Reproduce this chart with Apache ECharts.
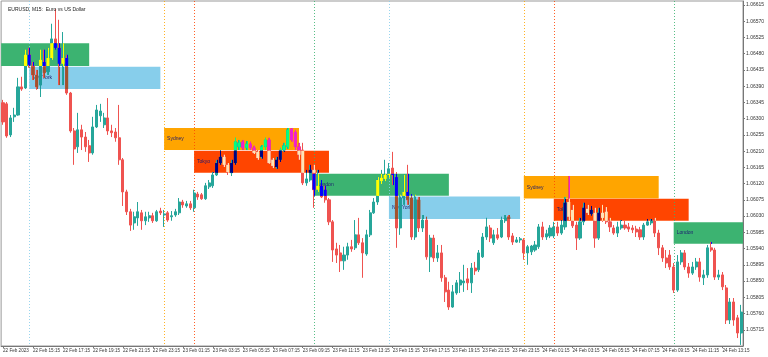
<!DOCTYPE html>
<html><head><meta charset="utf-8">
<script src="https://cdn.jsdelivr.net/npm/echarts@6/dist/echarts.min.js"></script>
<style>html,body{margin:0;padding:0;background:#fff}#c{width:768px;height:357px}</style>
</head><body><div id="c"></div>
<script>
const chartTitle = 'EURUSD, M15:  Euro vs US Dollar';
const xTickLabels = ['22 Feb 2023','22 Feb 15:15','22 Feb 17:15','22 Feb 19:15','22 Feb 21:15','22 Feb 23:15',
  '23 Feb 01:15','23 Feb 03:15','23 Feb 05:15','23 Feb 07:15','23 Feb 09:15','23 Feb 11:15','23 Feb 13:15',
  '23 Feb 15:15','23 Feb 17:15','23 Feb 19:15','23 Feb 21:15','23 Feb 23:15','24 Feb 01:15','24 Feb 03:15',
  '24 Feb 05:15','24 Feb 07:15','24 Feb 09:15','24 Feb 11:15','24 Feb 13:15'];

const opens = [
1.06344,1.06341,1.06255,1.06305,1.06310,1.06388,1.06385,1.06477,1.06446,1.06421,
1.06393,1.06457,1.06430,1.06468,1.06521,1.06496,1.06452,1.06468,1.06371,1.06266,
1.06222,1.06269,1.06249,1.06225,1.06205,1.06277,1.06308,1.06283,1.06302,1.06266,
1.06263,1.06247,1.06186,1.06097,1.06042,1.06011,1.06025,1.06039,1.06017,1.06025,
1.06031,1.06017,1.06044,1.06033,1.06039,1.06028,1.06033,1.06039,1.06069,1.06058,
1.06064,1.06053,1.06091,1.06089,1.06078,1.06111,1.06114,1.06144,1.06177,1.06194,
1.06172,1.06150,1.06177,1.06222,1.06236,1.06219,1.06230,1.06219,1.06208,1.06194,
1.06222,1.06241,1.06186,1.06166,1.06186,1.06213,1.06222,1.06272,1.06263,1.06222,
1.06213,1.06122,1.06130,1.06158,1.06103,1.06114,1.06103,1.06075,1.06014,1.05939,
1.05928,1.05906,1.05922,1.05945,1.05942,1.05978,1.05956,1.05925,1.05978,1.06039,
1.06069,1.06127,1.06133,1.06144,1.06163,1.06138,1.05997,1.06080,1.06097,1.06080,
1.05972,1.06075,1.05997,1.06019,1.05917,1.05969,1.05914,1.05928,1.05859,1.05825,
1.05778,1.05817,1.05839,1.05845,1.05856,1.05845,1.05886,1.05881,1.05917,1.05972,
1.05997,1.05956,1.05978,1.05972,1.06017,1.06028,1.05975,1.05958,1.05964,1.05964,
1.05928,1.05931,1.05936,1.05945,1.06000,1.05972,1.05975,1.05975,1.06000,1.05983,
1.06000,1.06069,1.06047,1.06005,1.05969,1.06014,1.06050,1.06036,1.06039,1.05969,
1.06039,1.06042,1.06014,1.05997,1.05983,1.05997,1.06005,1.06000,1.05997,1.05994,
1.05992,1.05972,1.06005,1.06011,1.06017,1.05983,1.05942,1.05914,1.05922,1.05889,
1.05825,1.05903,1.05928,1.05889,1.05872,1.05889,1.05903,1.05859,1.05867,1.05942,
1.05936,1.05861,1.05867,1.05831,1.05742,1.05792,1.05748,1.05706];

const closes = [
1.06291,1.06252,1.06302,1.06310,1.06388,1.06382,1.06477,1.06449,1.06421,1.06388,
1.06463,1.06427,1.06468,1.06521,1.06496,1.06452,1.06468,1.06371,1.06266,1.06216,
1.06269,1.06249,1.06222,1.06205,1.06277,1.06324,1.06321,1.06302,1.06266,1.06261,
1.06247,1.06186,1.06097,1.06042,1.06005,1.06028,1.06042,1.06017,1.06028,1.06031,
1.06017,1.06042,1.06039,1.06036,1.06019,1.06031,1.06042,1.06069,1.06061,1.06064,
1.06053,1.06094,1.06083,1.06078,1.06114,1.06122,1.06144,1.06177,1.06194,1.06172,
1.06152,1.06177,1.06236,1.06233,1.06219,1.06230,1.06219,1.06205,1.06191,1.06222,
1.06241,1.06177,1.06169,1.06186,1.06213,1.06225,1.06269,1.06241,1.06222,1.06200,
1.06122,1.06133,1.06158,1.06103,1.06114,1.06083,1.06075,1.06014,1.05936,1.05922,
1.05906,1.05922,1.05945,1.05939,1.05978,1.05956,1.05928,1.05978,1.06039,1.06069,
1.06130,1.06136,1.06144,1.06161,1.06144,1.05997,1.06080,1.06097,1.06075,1.05972,
1.06075,1.05997,1.06019,1.05917,1.05969,1.05914,1.05928,1.05859,1.05820,1.05778,
1.05820,1.05845,1.05853,1.05850,1.05845,1.05886,1.05878,1.05928,1.05972,1.06000,
1.05969,1.05978,1.05969,1.06019,1.06025,1.05972,1.05958,1.05964,1.05967,1.05928,
1.05945,1.05947,1.05950,1.06000,1.05972,1.05981,1.05997,1.06000,1.05983,1.06005,
1.06067,1.06028,1.06003,1.05969,1.06014,1.06053,1.06039,1.06047,1.05969,1.06039,
1.06025,1.06014,1.06000,1.05983,1.06000,1.06005,1.05997,1.05994,1.05992,1.05986,
1.05972,1.06005,1.06014,1.06017,1.05983,1.05942,1.05914,1.05900,1.05889,1.05825,
1.05903,1.05928,1.05889,1.05872,1.05889,1.05903,1.05861,1.05867,1.05942,1.05936,
1.05861,1.05867,1.05834,1.05742,1.05792,1.05742,1.05706,1.05764];

const lows = [
1.06283,1.06247,1.06249,1.06291,1.06308,1.06377,1.06382,1.06441,1.06407,1.06380,
1.06360,1.06413,1.06421,1.06463,1.06491,1.06393,1.06393,1.06366,1.06261,1.06172,
1.06205,1.06213,1.06208,1.06180,1.06200,1.06274,1.06291,1.06274,1.06255,1.06249,
1.06236,1.06172,1.06058,1.06033,1.05989,1.05992,1.06003,1.05992,1.06005,1.06014,
1.06011,1.06014,1.06033,1.06000,1.06014,1.06017,1.06028,1.06033,1.06053,1.06053,
1.06047,1.06042,1.06075,1.06075,1.06075,1.06105,1.06108,1.06141,1.06172,1.06166,
1.06144,1.06141,1.06172,1.06213,1.06213,1.06213,1.06213,1.06202,1.06186,1.06189,
1.06213,1.06175,1.06163,1.06161,1.06180,1.06208,1.06216,1.06236,1.06213,1.06186,
1.06116,1.06114,1.06125,1.06053,1.06097,1.06080,1.06067,1.06005,1.05903,1.05900,
1.05875,1.05881,1.05909,1.05931,1.05936,1.05950,1.05859,1.05920,1.05972,1.06036,
1.06061,1.06119,1.06127,1.06136,1.06116,1.05942,1.05978,1.06061,1.06061,1.05964,
1.05964,1.05986,1.05986,1.05909,1.05875,1.05903,1.05903,1.05848,1.05792,1.05770,
1.05776,1.05812,1.05817,1.05820,1.05825,1.05817,1.05867,1.05875,1.05914,1.05964,
1.05958,1.05950,1.05964,1.05969,1.06011,1.05964,1.05950,1.05956,1.05956,1.05909,
1.05895,1.05922,1.05931,1.05939,1.05964,1.05964,1.05969,1.05969,1.05975,1.05978,
1.05992,1.06019,1.05997,1.05936,1.05964,1.06005,1.06033,1.06031,1.05942,1.05964,
1.06014,1.06008,1.05986,1.05978,1.05972,1.05992,1.05992,1.05986,1.05983,1.05972,
1.05964,1.05964,1.06003,1.06005,1.05972,1.05922,1.05903,1.05886,1.05881,1.05817,
1.05820,1.05895,1.05881,1.05859,1.05867,1.05881,1.05848,1.05839,1.05859,1.05931,
1.05853,1.05853,1.05825,1.05731,1.05731,1.05726,1.05692,1.05673];

const highs = [
1.06352,1.06346,1.06310,1.06330,1.06413,1.06416,1.06491,1.06496,1.06457,1.06435,
1.06491,1.06491,1.06496,1.06563,1.06604,1.06574,1.06540,1.06477,1.06374,1.06274,
1.06316,1.06283,1.06263,1.06241,1.06305,1.06338,1.06341,1.06316,1.06357,1.06283,
1.06274,1.06338,1.06191,1.06103,1.06050,1.06042,1.06069,1.06047,1.06042,1.06042,
1.06039,1.06047,1.06053,1.06047,1.06044,1.06044,1.06050,1.06080,1.06075,1.06072,
1.06072,1.06103,1.06097,1.06094,1.06122,1.06130,1.06152,1.06186,1.06213,1.06200,
1.06177,1.06186,1.06247,1.06241,1.06241,1.06238,1.06236,1.06225,1.06213,1.06227,
1.06247,1.06247,1.06191,1.06194,1.06219,1.06233,1.06274,1.06274,1.06269,1.06233,
1.06233,1.06158,1.06172,1.06172,1.06158,1.06130,1.06114,1.06080,1.06019,1.05956,
1.05950,1.05945,1.05956,1.05964,1.06019,1.06025,1.05969,1.05992,1.06047,1.06080,
1.06138,1.06158,1.06186,1.06177,1.06208,1.06152,1.06089,1.06144,1.06172,1.06091,
1.06089,1.06083,1.06033,1.06028,1.05978,1.05978,1.05950,1.05950,1.05867,1.05848,
1.05839,1.05853,1.05875,1.05895,1.05886,1.05900,1.05903,1.05936,1.05983,1.06025,
1.06005,1.05992,1.05997,1.06028,1.06033,1.06033,1.05983,1.05972,1.05972,1.05969,
1.05950,1.05950,1.05961,1.06008,1.06014,1.05992,1.06005,1.06014,1.06014,1.06019,
1.06083,1.06141,1.06061,1.06014,1.06025,1.06067,1.06061,1.06058,1.06053,1.06053,
1.06061,1.06055,1.06025,1.06005,1.06014,1.06019,1.06017,1.06011,1.06005,1.06003,
1.06000,1.06011,1.06022,1.06022,1.06025,1.05992,1.05950,1.05936,1.05936,1.05900,
1.05922,1.05936,1.05936,1.05900,1.05903,1.05914,1.05914,1.05881,1.05950,1.05958,
1.05942,1.05881,1.05875,1.05839,1.05803,1.05803,1.05756,1.05784];

// session boxes: name, first/last bar index, price top/bottom
const sessionNames  = ['London','NewYork','Sydney','Tokyo','London','NewYork','Sydney','Tokyo','London'];
const sessionStart  = [-13, 7, 43, 51, 83, 103, 139, 147, 179];
const sessionEnd    = [23, 42, 79, 87, 119, 138, 175, 183, 198];
const sessionTop    = [1.06509,1.06444,1.06274,1.06211,1.06147,1.06084,1.06141,1.06078,1.06013];
const sessionBottom = [1.06446,1.06382,1.06213,1.06150,1.06086,1.06022,1.06079,1.06017,1.05953];

const sessionStyle = {
  London:  {box:'#3cb371', bull:'#ffff00', bear:'#0000ff'},
  NewYork: {box:'#87ceeb', bull:'#1f9a9a', bear:'#a0522d'},
  Sydney:  {box:'#ffa500', bull:'#00ff7f', bear:'#f020d0'},
  Tokyo:   {box:'#ff4500', bull:'#000080', bear:'#ffe4b5'}
};
const FONT = 'Liberation Sans';

const months = ['Jan','Feb','Mar','Apr','May','Jun','Jul','Aug','Sep','Oct','Nov','Dec'];
const pad = n => (n < 10 ? '0' : '') + n;
const t0 = Date.UTC(2023, 1, 22, 13, 15);
const categories = opens.map((_, i) => {
  const d = new Date(t0 + i * 15 * 60000);
  return pad(d.getUTCDate()) + ' ' + months[d.getUTCMonth()] + ' ' + pad(d.getUTCHours()) + ':' + pad(d.getUTCMinutes());
});

const candleData = opens.map((o, i) => [o, closes[i], lows[i], highs[i]]);
const overlayData = opens.map((o, i) => [i, o, closes[i], lows[i], highs[i]]);
const boxData = sessionNames.map((n, k) => [sessionStart[k], sessionEnd[k], sessionTop[k], sessionBottom[k]]);

function renderBox(params, api) {
  const k = params.dataIndex;
  const name = sessionNames[k], st = sessionStyle[name];
  const cs = params.coordSys;
  const p0 = api.coord([api.value(0), api.value(2)]);
  const p1 = api.coord([api.value(1), api.value(3)]);
  const rect = echarts.graphic.clipRectByRect(
    {x: p0[0], y: p0[1], width: p1[0] - p0[0], height: p1[1] - p0[1]},
    {x: cs.x, y: cs.y, width: cs.width, height: cs.height});
  const children = [];
  if (api.value(0) >= 0) {
    const lx = Math.round(p0[0]) + 0.5;
    children.push({type: 'line', shape: {x1: lx, y1: cs.y, x2: lx, y2: cs.y + cs.height},
      style: {stroke: st.box, lineWidth: 1, lineDash: [1, 2], opacity: 0.85}});
  }
  if (rect) children.push({type: 'rect', shape: rect, style: {fill: st.box}});
  if (api.value(0) >= 0) {
    children.push({type: 'text', x: p0[0] + 3, y: (p0[1] + p1[1]) / 2,
      style: {text: name, fontSize: 5, fontFamily: FONT, fill: '#1c1c70', verticalAlign: 'middle', align: 'left'}});
  }
  return {type: 'group', children};
}

function renderOverlay(params, api) {
  const i = api.value(0), o = api.value(1), c = api.value(2), l = api.value(3), h = api.value(4);
  const bull = c >= o;
  const lo = Math.min(o, c), hi = Math.max(o, c);
  const cx = api.coord([i, o])[0];
  const bw = api.size([1, 0])[0] * 0.8;
  const children = [];
  for (let k = 0; k < sessionNames.length; k++) {
    if (i < sessionStart[k] || i > sessionEnd[k]) continue;
    const st = sessionStyle[sessionNames[k]];
    const col = bull ? st.bull : st.bear;
    const top = sessionTop[k], bot = sessionBottom[k];
    const wl = Math.max(l, bot), wh = Math.min(h, top);
    if (wl < wh) {
      const y1 = api.coord([i, wh])[1], y2 = api.coord([i, wl])[1];
      children.push({type: 'line', shape: {x1: Math.round(cx) + 0.5, y1, x2: Math.round(cx) + 0.5, y2},
        style: {stroke: col, lineWidth: 1}});
    }
    const bl = Math.max(lo, bot), bh = Math.min(hi, top);
    if (bl <= bh && !(bl === bh && (lo < bot || hi > top))) {
      const y1 = api.coord([i, bh])[1], y2 = api.coord([i, bl])[1];
      children.push({type: 'rect', shape: {x: cx - bw / 2, y: y1, width: bw, height: Math.max(1, y2 - y1)},
        style: {fill: col}});
    }
  }
  return {type: 'group', children};
}

const chart = echarts.init(document.getElementById('c'), null, {renderer: 'canvas'});
chart.setOption({
  animation: false,
  backgroundColor: '#ffffff',
  title: {text: chartTitle, left: 3, top: 2,
    textStyle: {fontSize: 5, fontWeight: 'normal', color: '#222', fontFamily: FONT}},
  grid: {left: 0, right: 25, top: 1, bottom: 11, show: true, borderColor: '#999', borderWidth: 1, backgroundColor: 'transparent'},
  xAxis: {
    type: 'category', data: categories, boundaryGap: true,
    axisLine: {lineStyle: {color: '#777', width: 1}},
    axisTick: {show: true, interval: 7, alignWithLabel: true, length: 2, lineStyle: {color: '#777'}},
    axisLabel: {interval: 7, fontSize: 4.6, fontFamily: FONT, color: '#333', align: 'left', margin: 2,
      formatter: (v, idx) => (idx % 8 === 0 && xTickLabels[idx / 8]) ? xTickLabels[idx / 8] : ''},
    splitLine: {show: false}
  },
  yAxis: {
    type: 'value', position: 'right', min: 1.0567, max: 1.06626, interval: 0.00045, scale: true,
    axisLine: {show: true, lineStyle: {color: '#777', width: 1}},
    axisTick: {show: true, length: 2, lineStyle: {color: '#777'}},
    axisLabel: {fontSize: 5, fontFamily: FONT, color: '#333', margin: 3, showMinLabel: false, showMaxLabel: false,
      formatter: v => v.toFixed(5)},
    splitLine: {show: false}
  },
  series: [
    {type: 'custom', name: 'sessions', z: 1, renderItem: renderBox, data: boxData,
      encode: {x: [0, 1], y: [2, 3]}, silent: true},
    {type: 'candlestick', name: 'EURUSD', z: 2, data: candleData, barWidth: 2.6,
      itemStyle: {color: '#26a69a', color0: '#ef5350', borderColor: '#26a69a', borderColor0: '#ef5350', borderWidth: 1}},
    {type: 'custom', name: 'sessionCandles', z: 3, renderItem: renderOverlay, data: overlayData,
      encode: {x: 0, y: [1, 2, 3, 4]}, silent: true}
  ]
});
</script>
</body></html>
